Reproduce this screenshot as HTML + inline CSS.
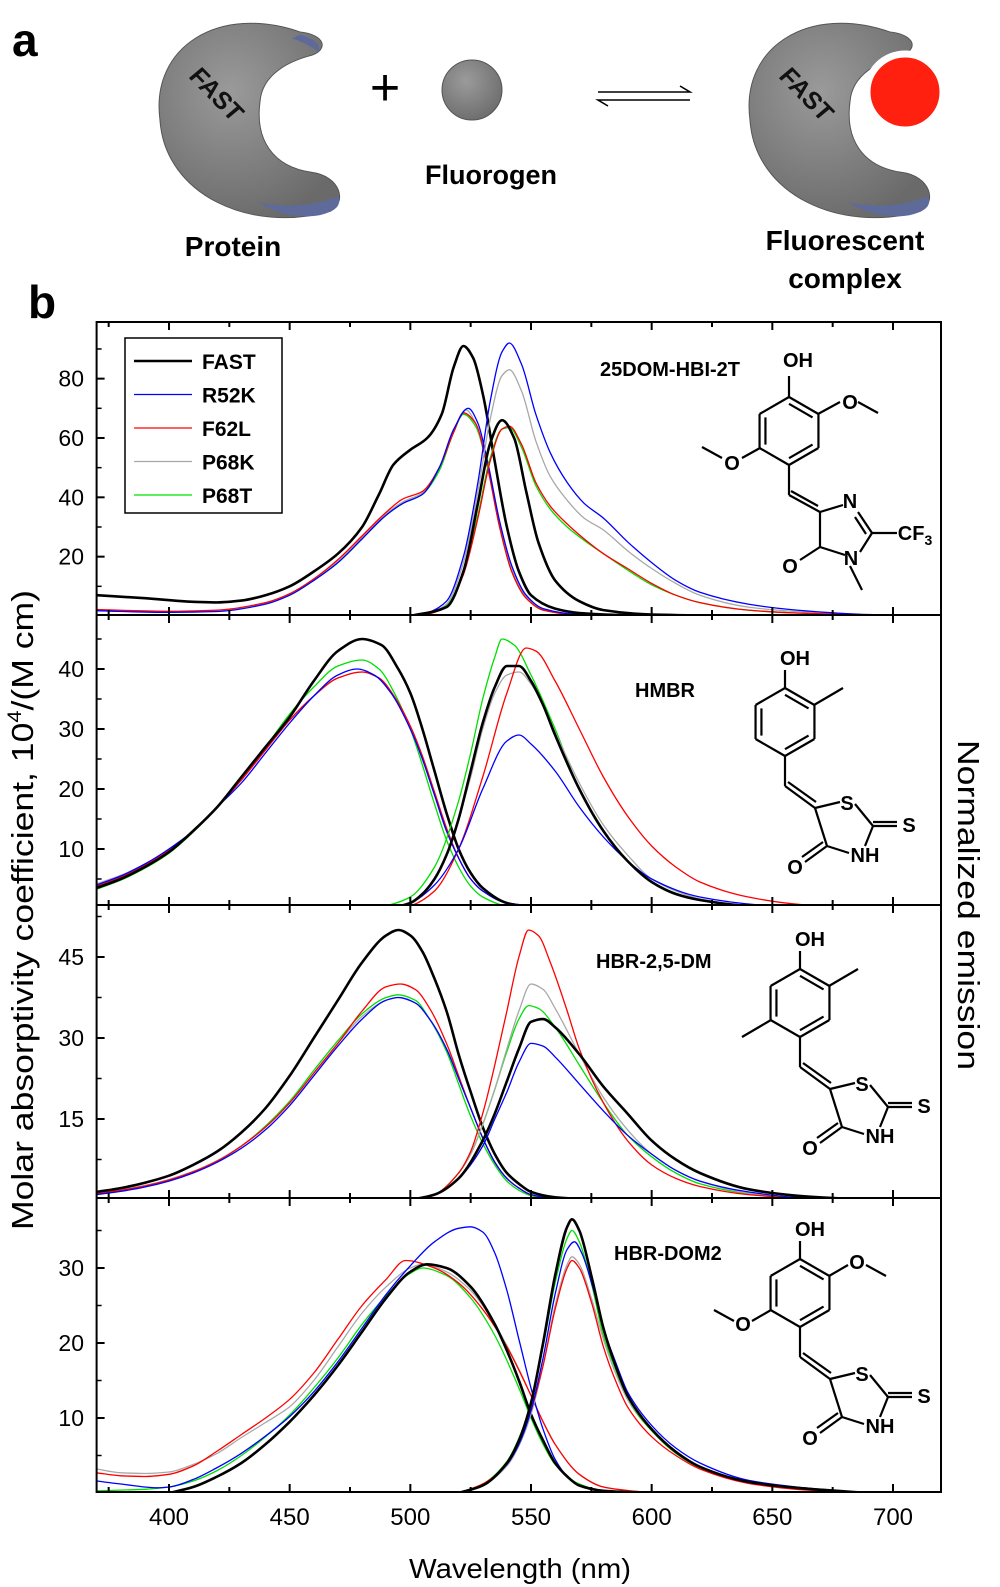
<!DOCTYPE html>
<html><head><meta charset="utf-8"><style>
html,body{margin:0;padding:0;background:#fff}
svg{display:block;font-family:"Liberation Sans",Arial,sans-serif}
</style></head><body>
<svg id="fig" width="1000" height="1587" viewBox="0 0 1000 1587" xmlns="http://www.w3.org/2000/svg">
<defs>
<radialGradient id="gp" cx="0.4" cy="0.35" r="0.7"><stop offset="0" stop-color="#9a9a9a"/><stop offset="1" stop-color="#6a6a6a"/></radialGradient>
<radialGradient id="gb" cx="0.4" cy="0.35" r="0.7"><stop offset="0" stop-color="#9b9b9b"/><stop offset="1" stop-color="#6c6c6c"/></radialGradient>
</defs>
<g>
<text x="12" y="56" font-size="46" font-weight="bold">a</text>
<g transform="translate(0,-12) translate(0,30) scale(1,0.93) translate(0,-30)">
<path d="M300 45 C220 15,150 60,160 140 C165 220,250 262,330 238 C348 228,340 200,312 196 C272 190,255 160,260 120 C262 90,290 76,312 70 C328 64,326 48,300 45Z" fill="url(#gp)" stroke="#555" stroke-width="1"/>
<path d="M258 228 C290 236,320 230,338 222 C342 232,335 238,320 242 C300 246,275 240,258 228Z" fill="#5e6a9a"/>
<path d="M300 48 C315 52,322 60,318 66 C310 60,302 55,292 52Z" fill="#5e6a9a"/>
<text x="210" y="118" font-size="26" font-weight="bold" fill="#111" transform="rotate(48 210 118)" text-anchor="middle">FAST</text>
</g>
<text x="385" y="105" font-size="52" text-anchor="middle">+</text>
<circle cx="472" cy="90" r="30" fill="url(#gb)" stroke="#555"/>
<text x="491" y="184" font-size="27" font-weight="bold" text-anchor="middle">Fluorogen</text>
<g stroke="#000" stroke-width="1.6" fill="none">
<path d="M598 92 H690 L680 86"/><path d="M690 100 H598 L608 106"/>
</g>
<text x="233" y="256" font-size="28" font-weight="bold" text-anchor="middle">Protein</text>
<g transform="translate(0,-12) translate(0,30) scale(1,0.93) translate(0,-30)">
<path d="M890 45 C810 15,740 60,750 140 C755 220,840 262,920 238 C938 228,930 200,902 196 C862 190,845 160,850 120 C852 90,880 76,902 70 C918 64,916 48,890 45Z" fill="url(#gp)" stroke="#555" stroke-width="1"/>
<path d="M848 228 C880 236,910 230,928 222 C932 232,925 238,910 242 C890 246,865 240,848 228Z" fill="#5e6a9a"/>
<text x="800" y="118" font-size="26" font-weight="bold" fill="#111" transform="rotate(48 800 118)" text-anchor="middle">FAST</text>
</g>
<circle cx="905" cy="92" r="38" fill="#ff2010" stroke="#fff" stroke-width="7"/>
<text x="845" y="250" font-size="28" font-weight="bold" text-anchor="middle">Fluorescent</text>
<text x="845" y="288" font-size="28" font-weight="bold" text-anchor="middle">complex</text>
</g>
<text x="28" y="318" font-size="46" font-weight="bold">b</text>
<g id="chart"></g>
</svg>
<script>
// ---- data: flat [wavelength, value, ...] pairs ----
const xTicks = [400,450,500,550,600,650,700];
const panelNames = ["25DOM-HBI-2T","HMBR","HBR-2,5-DM","HBR-DOM2"];
const yTicks1 = [20,40,60,80];
const yTicks2 = [10,20,30,40];
const yTicks3 = [15,30,45];
const yTicks4 = [10,20,30];
const seriesNames = ["FAST","R52K","F62L","P68K","P68T"];

// Panel 1
const p1AbsFAST=[370,7,390,6,410,4.8,420,4.6,430,5.2,440,7,450,10,460,15,470,21,480,30,487,41,493,51,500,56,507,60,513,68,518,84,522,91,526,87,530,75,535,52,540,30,545,15,550,7,560,2.5,570,1,590,0.3,720,0];
const p1AbsR52K=[370,1.8,400,1.2,420,1.5,440,4,450,7,460,12,470,18,480,26,490,34,497,38,505,41,512,50,518,63,524,70,528,65,532,52,537,32,542,17,548,7,555,2.5,570,0.5,600,0,720,0];
const p1AbsF62L=[370,2.2,400,1.6,420,2,440,4.5,450,7.5,460,12.5,470,19,480,27,490,35,497,39.5,505,42,512,50,518,62,522,68.5,527,65,532,50,537,30,542,15,548,6,555,2,570,0.4,600,0,720,0];
const p1AbsP68K=[370,2,400,1.4,420,1.8,440,4.2,450,7.2,460,12,470,18.5,480,26.5,490,34.5,497,38.5,505,41.5,512,50,518,62.5,523,69.5,527,65,532,51,537,31,542,16,548,6.5,555,2.2,570,0.4,600,0,720,0];
const p1AbsP68T=[370,1.9,400,1.3,420,1.7,440,4.1,450,7,460,12,470,18,480,26,490,34,497,38,505,41,512,49,518,62,522,68,527,64,532,50,537,30,542,15,548,6,555,2,570,0.4,600,0,720,0];
const p1EmFAST=[370,0,500,0,515,3,522,15,528,38,533,58,538,66,543,60,548,42,553,25,560,12,570,5,580,2,600,0.5,640,0,720,0];
const p1EmR52K=[370,0,505,0,515,5,522,20,528,45,533,72,538,89,541,92,546,85,552,68,558,55,565,45,572,38,580,33,590,25,600,18,610,12,620,8,640,4,660,2,690,0.5,720,0.2];
const p1EmF62L=[370,0,505,0,515,3,522,14,528,33,533,52,538,63,541,64,546,58,552,45,558,37,565,31,572,26,580,21,590,16,600,11,610,7,620,4.5,640,2,660,1,720,0];
const p1EmP68K=[370,0,505,0,515,4,522,18,528,42,533,66,538,81,541,83,546,76,552,59,558,47,565,39,572,33,580,29,590,22,600,16,610,11,620,7,640,3,660,1.5,690,0.4,720,0];
const p1EmP68T=[370,0,505,0,515,3.5,522,15,528,34,533,53,538,63,541,63.5,546,57,552,44,558,36,565,30,572,25.5,580,21,590,15.5,600,10.5,610,7,620,4.5,640,2,660,1,720,0];

// Panel 2
const p2AbsFAST=[370,3.5,380,5,390,7,400,9.5,410,13,420,17,430,22,440,27,450,32,460,38,470,43,480,45,488,44,495,40,500,36,505,30,510,23,515,16,520,10,525,6,530,3.5,540,1,550,0.3,570,0,720,0];
const p2AbsR52K=[370,4,380,5.5,390,7.5,400,10,410,13,420,17,430,21,440,26,450,31,460,35.5,470,39,478,40,485,39,492,36,500,30,505,25,510,19,515,13,520,8.5,525,5,530,3,540,1,560,0.3,580,0,720,0];
const p2AbsF62L=[370,3.8,380,5.3,390,7.3,400,9.8,410,13,420,17,430,21.5,440,26.5,450,31.5,460,35.5,470,38.5,480,39.5,487,38.5,494,35,500,30.5,505,25.5,510,19.5,515,13.5,520,8.5,525,5,530,3,540,1,560,0.3,580,0,720,0];
const p2AbsP68K=[370,4.2,380,5.6,390,7.5,400,10,410,13,420,17,430,21.5,440,26.5,450,31.5,460,35.5,470,38.5,480,39.5,487,38.5,494,35,500,30,505,25,510,19,515,13,520,8.5,525,5,530,3,540,1,560,0.3,580,0,720,0];
const p2AbsP68T=[370,3.3,380,4.8,390,6.8,400,9.3,410,12.8,420,17,430,22,440,27,450,32.5,460,37,470,40.5,480,41.5,487,40,494,35.5,500,30,505,24,510,17.5,515,11.5,520,7,525,3.8,530,2,540,0.5,560,0,720,0];
const p2EmFAST=[370,0,490,0,500,1,505,2.5,510,5,515,9,520,15,525,23,530,31,535,37,540,40.5,545,40.5,550,38,555,34,560,29,570,20,580,13,590,8,600,4.5,610,2.5,620,1.5,640,0.5,670,0,720,0];
const p2EmR52K=[370,0,490,0,500,1,510,4,520,10,530,20,540,28,545,29,550,27.5,560,23,570,17,580,12,590,8,600,5,620,2,650,0.5,680,0,720,0];
const p2EmF62L=[370,0,495,0,500,0.5,510,3,520,10,530,22,540,36,548,43.5,552,43,560,38,570,30,580,22,590,15.5,600,10.5,610,7,620,4.5,640,2,660,0.8,690,0,720,0];
const p2EmP68K=[370,0,490,0,500,1,505,2.5,510,5,515,9,520,15,525,22,530,30,535,36,540,39,545,39.5,550,37.5,555,34,560,29.5,570,21,580,14,590,9,600,5,610,3,620,1.7,640,0.6,670,0,720,0];
const p2EmP68T=[370,0,485,0,490,0.5,500,2,510,7,520,18,525,26,530,35,535,42,538,45,543,44,550,39,560,30,570,20,580,13,590,8,600,4.5,620,1.5,650,0.3,720,0];

// Panel 3
const p3AbsFAST=[370,1.5,380,2.2,390,3.2,400,4.5,410,6.5,420,9,430,12.5,440,17,450,23,460,30,470,37,480,44,490,49,495,50,500,49,505,46,510,41,515,35,520,27,525,20,530,13.5,535,8.5,540,5,545,3,550,1.5,560,0.5,580,0,720,0];
const p3AbsR52K=[370,1,380,1.6,390,2.4,400,3.5,410,5,420,7,430,9.6,440,13,450,17.5,460,23,470,28.5,480,33.5,490,37,495,37.5,502,36.5,508,33.5,515,28,520,22.5,525,17,530,11.5,535,7,540,4,545,2.2,550,1,560,0.3,580,0,720,0];
const p3AbsF62L=[370,1.2,380,1.8,390,2.6,400,3.7,410,5.2,420,7.2,430,10,440,13.5,450,18,460,23.5,470,29,480,35,490,39.5,496,40,502,39,508,35.5,515,29,520,23,525,17,530,11.5,535,7,540,4,545,2.2,550,1,560,0.3,580,0,720,0];
const p3AbsP68K=[370,1.3,380,1.9,390,2.7,400,3.8,410,5.3,420,7.3,430,10,440,13.5,450,18,460,23.5,470,29,480,34,490,37,495,37.5,502,36.5,508,33.5,515,28,520,22.5,525,17,530,11.5,535,7,540,4,545,2.2,550,1,560,0.3,580,0,720,0];
const p3AbsP68T=[370,1.2,380,1.8,390,2.6,400,3.7,410,5.2,420,7.3,430,10,440,13.7,450,18.3,460,24,470,29.5,480,34.5,490,37.5,495,38,502,37,508,33.5,515,27.5,520,21.5,525,15.5,530,10.5,535,6.5,540,3.5,545,1.8,550,0.8,560,0.2,580,0,720,0];
const p3EmFAST=[370,0,500,0,510,1,520,4,530,11,535,16,540,22,545,28,550,33,555,33.5,560,32,570,27,580,21,590,16,600,11,610,7.5,620,5,640,2,660,0.8,690,0,720,0];
const p3EmR52K=[370,0,500,0,510,1,520,4,530,10,535,15,540,20,545,25.5,550,29,555,28.5,560,26.5,570,21.5,580,16.5,590,12,600,8.5,610,5.5,620,3.5,640,1.5,660,0.5,690,0,720,0];
const p3EmF62L=[370,0,500,0,510,1,520,5,525,9,530,16,535,25,540,35,545,45,549,50,553,49,558,44,565,35,570,28,580,18,590,11,600,6.5,610,4,620,2.5,640,1,670,0.2,720,0];
const p3EmP68K=[370,0,500,0,510,1,520,5,525,8.5,530,14,535,20.5,540,28,545,35,550,40,555,39,560,35.5,570,27,580,19,590,13,600,8.5,610,5.5,620,3.5,640,1.3,670,0.2,720,0];
const p3EmP68T=[370,0,500,0,510,1,520,5,525,8.5,530,14,535,20.5,540,27.5,545,33.5,549,36,553,35.5,560,32,570,25,580,18,590,12,600,8,610,5,620,3,640,1.2,670,0.2,720,0];

// Panel 4
const p4AbsFAST=[370,0,400,0,410,0.8,420,2.2,430,4,440,6.5,450,9.5,460,13,470,17,480,21.5,490,26,500,29.5,507,30.5,515,30,525,27.5,535,22.5,540,19,545,15,550,10.5,555,7,560,4,565,2.2,570,1,580,0.3,600,0,720,0];
const p4AbsR52K=[370,1.6,380,1.2,395,0.7,400,0.8,410,1.8,420,3.4,430,5.3,440,7.6,450,10.2,460,13.5,470,17.5,480,22,490,26.5,500,30.3,510,33.5,520,35.3,525,35.5,530,34.8,535,32,540,27,545,20.5,550,14,555,8.5,560,4.5,565,2.2,570,1,580,0.3,600,0,720,0];
const p4AbsF62L=[370,2.7,380,2.3,390,2.2,400,2.5,410,3.6,420,5.6,430,7.8,440,10,450,12.5,460,16,470,20.5,480,25,490,28.5,498,31,510,30,520,28,530,24.5,540,19.5,550,13,555,9.5,560,6.5,570,2.5,580,0.8,600,0,720,0];
const p4AbsP68K=[370,3.2,380,2.7,390,2.6,400,2.8,410,3.8,420,5.3,430,7.4,440,9.4,450,11.5,460,15,470,19.5,480,24,490,27.5,500,30,505,30.5,515,29.5,525,27,535,22.5,545,16.5,550,13,555,9.5,560,6.5,570,2.5,580,0.8,600,0,720,0];
const p4AbsP68T=[370,0.3,390,0.5,400,0.8,410,1.6,420,3,430,5,440,7.5,450,10.4,460,14,470,18,480,22.5,490,26.3,500,29.3,505,30,515,29,525,26,535,21,545,14,550,10,555,6.5,560,3.8,570,1.2,580,0.3,600,0,720,0];
const p4EmFAST=[370,0,520,0,530,1,540,4,545,7,550,12,555,20,560,29,565,35.5,567,36.5,570,35,575,29,580,22,585,17,590,13,600,8.5,610,5.5,620,3.5,640,1.5,660,0.7,690,0,720,0];
const p4EmR52K=[370,0,520,0,530,1,540,3.8,545,6.5,550,11,555,18,560,26.5,565,32.5,568,33.5,571,32,576,27,580,22,585,17.5,590,13.5,600,9,610,6,620,4,640,1.7,660,0.8,690,0,720,0];
const p4EmF62L=[370,0,520,0,530,1.2,540,4,545,7,550,11,555,17,560,24.5,565,30,567,31,570,30,575,25.5,580,19.5,585,15,590,11.5,600,7.5,610,5,620,3.2,640,1.3,660,0.5,690,0,720,0];
const p4EmP68K=[370,0,520,0,530,1,540,3.6,545,6.3,550,10.5,555,17,560,25,565,30.5,567,31.5,570,30.5,575,26,580,20.5,585,16,590,12.5,600,8.5,610,5.5,620,3.5,640,1.5,660,0.7,690,0,720,0];
const p4EmP68T=[370,0,520,0,530,1.2,540,4.2,545,7.3,550,12,555,19.5,560,28,565,34,567,35,570,33.5,575,28,580,21,585,16.5,590,12.5,600,8.3,610,5.3,620,3.4,640,1.4,660,0.6,690,0,720,0];

const absData=[[p1AbsFAST,p1AbsR52K,p1AbsF62L,p1AbsP68K,p1AbsP68T],[p2AbsFAST,p2AbsR52K,p2AbsF62L,p2AbsP68K,p2AbsP68T],[p3AbsFAST,p3AbsR52K,p3AbsF62L,p3AbsP68K,p3AbsP68T],[p4AbsFAST,p4AbsR52K,p4AbsF62L,p4AbsP68K,p4AbsP68T]];
const emData=[[p1EmFAST,p1EmR52K,p1EmF62L,p1EmP68K,p1EmP68T],[p2EmFAST,p2EmR52K,p2EmF62L,p2EmP68K,p2EmP68T],[p3EmFAST,p3EmR52K,p3EmF62L,p3EmP68K,p3EmP68T],[p4EmFAST,p4EmR52K,p4EmF62L,p4EmP68K,p4EmP68T]];
const yTicksAll=[yTicks1,yTicks2,yTicks3,yTicks4];

// ---- layout ----
const NS="http://www.w3.org/2000/svg";
const chart=document.getElementById('chart');
const X0=96.6, XL=941, PX=(893-169)/300;
const xs=w=>X0+(w-370)*PX;
const panels=[{top:322,bot:615,zero:616,k:2.967},{top:615,bot:905,zero:909,k:6},{top:905,bot:1198,zero:1200,k:5.4},{top:1198,bot:1492,zero:1493,k:7.5}];
const colors=["#000000","#0000ff","#ff0000","#a8a8a8","#00e000"];
const widths=[2.6,1.3,1.3,1.3,1.3];
function mk(tag,attrs,parent){const e=document.createElementNS(NS,tag);for(const k in attrs)e.setAttribute(k,attrs[k]);(parent||chart).appendChild(e);return e;}
function pathFrom(arr,p){
  let pts=[];for(let i=0;i<arr.length;i+=2){pts.push([xs(arr[i]),p.zero-arr[i+1]*p.k,arr[i+1]]);}
  // trim leading and trailing flat zeros
  let s=0;while(s<pts.length-2&&pts[s+1][2]===0)s++;
  let e=pts.length-1;while(e>s+1&&pts[e-1][2]===0)e--;
  pts=pts.slice(s,e+1);
  const n=pts.length,dx=[],m=[],t=new Array(n);
  for(let i=0;i<n-1;i++){dx[i]=pts[i+1][0]-pts[i][0];m[i]=(pts[i+1][1]-pts[i][1])/dx[i];}
  t[0]=m[0];t[n-1]=m[n-2];
  for(let i=1;i<n-1;i++){t[i]=(m[i-1]*m[i]<=0)?0:3*(dx[i-1]+dx[i])/((2*dx[i]+dx[i-1])/m[i-1]+(dx[i]+2*dx[i-1])/m[i]);}
  let d="M"+pts[0][0].toFixed(1)+" "+pts[0][1].toFixed(1);
  for(let i=0;i<n-1;i++){const h=dx[i]/3;
    d+=` C${(pts[i][0]+h).toFixed(1)} ${(pts[i][1]+t[i]*h).toFixed(1)},${(pts[i+1][0]-h).toFixed(1)} ${(pts[i+1][1]-t[i+1]*h).toFixed(1)},${pts[i+1][0].toFixed(1)} ${pts[i+1][1].toFixed(1)}`;}
  return d;
}
panels.forEach((p,pi)=>{
  const g=mk('g',{});
  
  
  const clip=mk('clipPath',{id:'c'+pi},g);
  mk('rect',{x:X0,y:p.top,width:XL-X0,height:p.bot-p.top},clip);
  const draw=mk('g',{'clip-path':`url(#c${pi})`},g);
  [absData[pi],emData[pi]].forEach((set,si)=>{
    for(let s=set.length-1;s>=0;s--){
      const el=mk('path',{d:pathFrom(set[s],p),fill:'none',stroke:colors[s],'stroke-width':widths[s],'stroke-linejoin':'round'},draw);
      
      
    }
  });
  yTicksAll[pi].forEach(v=>{
    const y=p.zero-v*p.k;
    mk('line',{x1:X0,x2:X0+8,y1:y,y2:y,stroke:'#000','stroke-width':2},g);
    const t=mk('text',{x:84,y:y+8,'font-size':23,'text-anchor':'end'},g);t.textContent=v;
    
    
  });
  const st=yTicksAll[pi][1]-yTicksAll[pi][0];
  for(let v=st/2;p.zero-v*p.k>p.top+3;v+=st){if(yTicksAll[pi].includes(v))continue;const y=p.zero-v*p.k;if(y>=p.bot-2)continue;mk('line',{x1:X0,x2:X0+5,y1:y,y2:y,stroke:'#000','stroke-width':1.5},g);}
  for(let w=375;w<=720;w+=25){
    const major=w%50===0;const L=major?8:5;
    mk('line',{x1:xs(w),x2:xs(w),y1:p.top,y2:p.top+L,stroke:'#000','stroke-width':2},g);
    mk('line',{x1:xs(w),x2:xs(w),y1:p.bot,y2:p.bot-L,stroke:'#000','stroke-width':2},g);
  }
  const tt=mk('text',{x:[600,635,596,614][pi],y:[376,697,968,1260][pi],'font-size':20,'font-weight':'bold'},g);
  tt.textContent=panelNames[pi];
  
  
});
mk('rect',{x:X0,y:322,width:XL-X0,height:1492-322,fill:'none',stroke:'#000','stroke-width':2});
[615,905,1198].forEach(y=>mk('line',{x1:X0,x2:XL,y1:y,y2:y,stroke:'#000','stroke-width':2}));
xTicks.forEach(w=>{const t=mk('text',{x:xs(w),y:1525,'font-size':24,'text-anchor':'middle'});t.textContent=w;
  
  });
let t=mk('text',{x:520,y:1578,'font-size':28,'text-anchor':'middle',textLength:222,lengthAdjust:'spacingAndGlyphs'});t.textContent='Wavelength (nm)';


t=mk('text',{x:0,y:0,'font-size':31,'text-anchor':'middle',textLength:640,lengthAdjust:'spacingAndGlyphs',transform:'translate(33 910) rotate(-90)'});
t.innerHTML='Molar absorptivity coefficient, 10<tspan dy="-12" font-size="19">4</tspan><tspan dy="12">/(M cm)</tspan>';


t=mk('text',{x:0,y:0,'font-size':31,'text-anchor':'middle',textLength:330,lengthAdjust:'spacingAndGlyphs',transform:'translate(958 905) rotate(90)'});t.textContent='Normalized emission';


const lg=mk('g',{});


mk('rect',{x:125,y:338,width:157,height:175,fill:'#fff',stroke:'#000','stroke-width':1.5},lg);
seriesNames.forEach((n,i)=>{
  const y=361+i*33.5;
  const e=mk('g',{},lg);
  
  
  mk('line',{x1:134,x2:192,y1:y,y2:y,stroke:colors[i],'stroke-width':widths[i]},e);
  const tx=mk('text',{x:202,y:y+8,'font-size':21,'font-weight':'bold'},e);tx.textContent=n;
});
function struct(name,lines,labels){
  const g=mk('g',{stroke:'#000','stroke-width':2.2,fill:'none'});
  
  
  lines.forEach(l=>mk('line',{x1:l[0],y1:l[1],x2:l[2],y2:l[3]},g));
  labels.forEach(l=>{const e=mk('text',{x:l[0],y:l[1],'font-size':20,'font-weight':'bold',fill:'#000',stroke:'none','text-anchor':'middle'},g);e.textContent=l[2];
    if(l[3]){const s=mk('tspan',{dy:5,'font-size':14},e);s.textContent=l[3];}});
}
function ring(cx,cy,r){const v=[];for(let i=0;i<6;i++){const a=(-90+60*i)*Math.PI/180;v.push([cx+r*Math.cos(a),cy+r*Math.sin(a)]);}
  const L=[];for(let i=0;i<6;i++){const a=v[i],b=v[(i+1)%6];L.push([a[0],a[1],b[0],b[1]]);}
  [0,2,4].forEach(i=>{const a=v[i],b=v[(i+1)%6];const f=0.8;const ix=(x,y)=>[cx+(x-cx)*f,cy+(y-cy)*f];const A=ix(...a),B=ix(...b);L.push([A[0],A[1],B[0],B[1]]);});
  return {v,L};}
function thz(cx,cy){
  return {L:[[cx,cy+34,cx,cy+64],[cx,cy+64,cx+30,cy+86],[cx+3,cy+60,cx+31,cy+80],[cx+30,cy+86,cx+55,cy+80],[cx+70,cy+82,cx+88,cy+104],[cx+88,cy+104,cx+112,cy+104],[cx+88,cy+100,cx+112,cy+100],[cx+88,cy+104,cx+80,cy+124],[cx+64,cy+131,cx+42,cy+124],[cx+30,cy+86,cx+42,cy+124],[cx+42,cy+124,cx+20,cy+140],[cx+38,cy+120,cx+17,cy+135]],
    T:[[cx+62,cy+88,'S'],[cx+124,cy+110,'S'],[cx+80,cy+140,'NH'],[cx+10,cy+152,'O']]};
}
(function(){const r=ring(789,431,34);
 struct('structure-25dom-hbi-2t',r.L.concat([[789,397,789,376],[818,414,840,402],[858,402,878,413],[760,448,742,458],[722,458,702,447],[789,465,789,495],[789,495,820,512],[791,491,818,506],[820,512,843,505],[858,512,872,533],[855,517,866,534],[872,533,897,533],[872,533,860,552],[845,555,820,547],[820,512,820,547],[820,547,800,560],[850,566,862,590]]),
  [[798,367,'OH'],[850,409,'O'],[732,470,'O'],[850,508,'N'],[851,565,'N'],[790,573,'O'],[915,540,'CF','3']]);})();
(function(){const cx=785,cy=722,r=ring(cx,cy,34),t=thz(cx,cy);
 struct('structure-hmbr',r.L.concat([[cx,cy-34,cx,cy-52],[cx+29,cy-17,cx+58,cy-34]],t.L),[[cx+10,cy-57,'OH']].concat(t.T));})();
(function(){const cx=800,cy=1003,r=ring(cx,cy,34),t=thz(cx,cy);
 struct('structure-hbr-25dm',r.L.concat([[cx,cy-34,cx,cy-52],[cx+29,cy-17,cx+58,cy-34],[cx-29,cy+17,cx-58,cy+34]],t.L),[[cx+10,cy-57,'OH']].concat(t.T));})();
(function(){const cx=800,cy=1293,r=ring(cx,cy,34),t=thz(cx,cy);
 struct('structure-hbr-dom2',r.L.concat([[cx,cy-34,cx,cy-52],[cx+29,cy-17,cx+48,cy-28],[cx+66,cy-28,cx+86,cy-17],[cx-29,cy+17,cx-48,cy+28],[cx-66,cy+28,cx-86,cy+17]],t.L),[[cx+10,cy-57,'OH'],[cx+57,cy-24,'O'],[cx-57,cy+38,'O']].concat(t.T));})();
</script>
</body></html>
